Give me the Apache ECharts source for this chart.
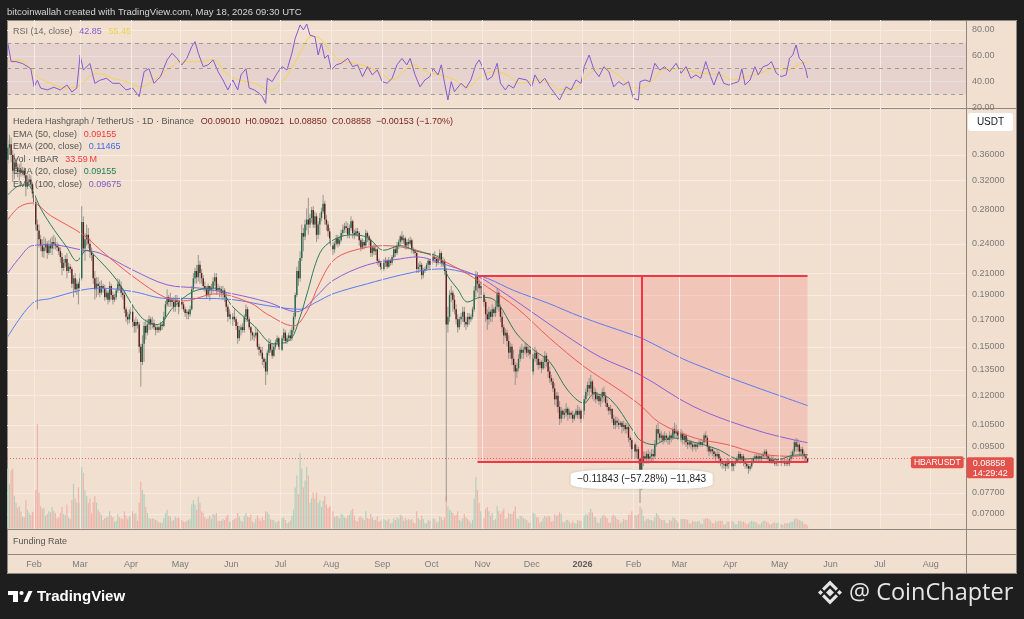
<!DOCTYPE html>
<html>
<head>
<meta charset="utf-8">
<title>HBARUSDT 1D</title>
<script src="https://cdn.jsdelivr.net/npm/echarts@6/dist/echarts.min.js"></script>
<style>
  html, body { margin: 0; padding: 0; background: #1e1e1e; }
  #main { width: 1024px; height: 619px; }
</style>
</head>
<body>
<div id="main"></div>
<script>
// daily candles, one array per month: [close, low, high, volume (M HBAR)]
// day 0 = 2025-01-16, each candle opens at the previous close
var firstOpen = 0.352;

var jan25 = [
  [0.372,0.345,0.385,700],[0.378,0.360,0.395,520],[0.360,0.348,0.390,680],[0.335,0.318,0.368,700],
  [0.348,0.322,0.362,380],[0.340,0.330,0.355,300],[0.333,0.325,0.346,240],[0.336,0.320,0.345,260],
  [0.332,0.326,0.348,200],[0.335,0.328,0.341,140],[0.328,0.324,0.340,130],[0.312,0.298,0.330,330],
  [0.318,0.308,0.328,220],[0.322,0.312,0.330,180],[0.315,0.308,0.328,160],[0.302,0.296,0.318,190]
];
var feb25 = [
  [0.290,0.285,0.312,200],[0.262,0.255,0.295,450],[0.255,0.178,0.268,1220],[0.245,0.236,0.262,420],
  [0.238,0.232,0.250,260],[0.232,0.226,0.245,230],[0.236,0.225,0.248,240],[0.240,0.232,0.246,150],
  [0.230,0.224,0.243,170],[0.238,0.228,0.244,200],[0.235,0.230,0.246,190],[0.242,0.228,0.248,250],
  [0.240,0.234,0.250,200],[0.238,0.234,0.247,180],[0.236,0.232,0.242,120],[0.232,0.228,0.240,130],
  [0.226,0.220,0.236,180],[0.215,0.208,0.230,250],[0.220,0.212,0.224,170],[0.224,0.216,0.228,160],
  [0.212,0.205,0.230,280],[0.216,0.210,0.220,130],[0.214,0.210,0.219,110],[0.200,0.196,0.216,330],
  [0.205,0.188,0.208,520],[0.195,0.192,0.210,350],[0.200,0.190,0.204,300],[0.196,0.182,0.202,480]
];
var mar25 = [
  [0.205,0.195,0.210,300],[0.265,0.203,0.285,720],[0.235,0.230,0.272,650],[0.245,0.222,0.252,450],
  [0.250,0.238,0.262,380],[0.240,0.235,0.258,300],[0.232,0.225,0.246,350],[0.228,0.222,0.236,180],
  [0.205,0.200,0.230,310],[0.195,0.186,0.212,380],[0.200,0.188,0.206,300],[0.198,0.190,0.206,220],
  [0.192,0.188,0.202,190],[0.198,0.190,0.203,160],[0.196,0.192,0.200,100],[0.188,0.185,0.199,120],
  [0.192,0.186,0.195,130],[0.186,0.182,0.194,140],[0.198,0.184,0.202,200],[0.190,0.186,0.200,150],
  [0.186,0.182,0.193,130],[0.188,0.184,0.191,80],[0.194,0.186,0.196,90],[0.200,0.192,0.205,170],
  [0.198,0.194,0.204,130],[0.192,0.188,0.202,120],[0.190,0.186,0.196,110],[0.178,0.175,0.194,200],
  [0.172,0.168,0.180,150],[0.170,0.166,0.176,110],[0.174,0.167,0.178,140]
];
var apr25 = [
  [0.176,0.170,0.180,150],[0.168,0.164,0.182,200],[0.165,0.160,0.170,170],[0.168,0.160,0.172,180],
  [0.166,0.163,0.170,90],[0.150,0.146,0.168,300],[0.140,0.125,0.152,550],[0.152,0.138,0.158,450],
  [0.165,0.140,0.168,400],[0.160,0.155,0.170,250],[0.166,0.158,0.170,180],[0.170,0.162,0.173,120],
  [0.166,0.162,0.172,110],[0.167,0.163,0.172,120],[0.164,0.162,0.170,110],[0.162,0.158,0.166,100],
  [0.164,0.160,0.166,90],[0.162,0.160,0.165,70],[0.166,0.161,0.168,70],[0.165,0.162,0.168,60],
  [0.172,0.164,0.176,120],[0.182,0.170,0.185,180],[0.188,0.180,0.195,220],[0.184,0.180,0.190,150],
  [0.186,0.180,0.192,140],[0.184,0.180,0.188,90],[0.180,0.176,0.188,100],[0.186,0.176,0.190,140],
  [0.184,0.180,0.190,120],[0.180,0.174,0.186,130]
];
var may25 = [
  [0.184,0.176,0.188,120],[0.182,0.178,0.188,100],[0.178,0.176,0.184,80],[0.175,0.172,0.180,80],
  [0.176,0.170,0.178,90],[0.174,0.170,0.178,100],[0.178,0.172,0.181,110],[0.195,0.177,0.198,280],
  [0.205,0.193,0.210,330],[0.212,0.200,0.215,280],[0.206,0.200,0.218,220],[0.218,0.202,0.228,370],
  [0.210,0.200,0.222,300],[0.205,0.200,0.214,200],[0.198,0.194,0.208,180],[0.196,0.193,0.202,130],
  [0.190,0.187,0.198,110],[0.198,0.188,0.200,120],[0.194,0.185,0.198,150],[0.196,0.190,0.200,110],
  [0.202,0.192,0.206,170],[0.206,0.198,0.210,160],[0.194,0.190,0.210,180],[0.196,0.192,0.200,90],
  [0.195,0.188,0.198,90],[0.192,0.188,0.198,90],[0.194,0.186,0.198,110],[0.188,0.184,0.196,100],
  [0.180,0.176,0.192,140],[0.172,0.168,0.182,160],[0.174,0.170,0.178,80]
];
var jun25 = [
  [0.170,0.166,0.176,80],[0.172,0.165,0.175,100],[0.170,0.168,0.178,110],[0.165,0.162,0.172,120],
  [0.156,0.152,0.168,180],[0.162,0.154,0.165,140],[0.164,0.158,0.166,90],[0.162,0.160,0.167,80],
  [0.172,0.160,0.174,150],[0.178,0.168,0.182,180],[0.170,0.168,0.180,140],[0.164,0.162,0.172,130],
  [0.160,0.154,0.165,160],[0.158,0.155,0.161,80],[0.158,0.154,0.160,70],[0.160,0.156,0.164,110],
  [0.150,0.148,0.162,150],[0.148,0.144,0.152,120],[0.146,0.144,0.150,90],[0.142,0.138,0.150,130],
  [0.140,0.136,0.143,100],[0.134,0.126,0.142,200],[0.146,0.132,0.148,190],[0.152,0.144,0.156,170],
  [0.148,0.146,0.155,110],[0.144,0.142,0.152,100],[0.150,0.143,0.152,100],[0.153,0.148,0.155,70],
  [0.156,0.151,0.158,80],[0.150,0.148,0.157,90]
];
var jul25 = [
  [0.148,0.145,0.153,90],[0.156,0.147,0.158,120],[0.160,0.154,0.163,130],[0.154,0.152,0.162,100],
  [0.156,0.152,0.158,60],[0.158,0.154,0.160,70],[0.156,0.154,0.162,90],[0.162,0.154,0.164,150],
  [0.172,0.160,0.175,220],[0.190,0.170,0.192,480],[0.212,0.188,0.216,620],[0.205,0.198,0.222,400],
  [0.225,0.202,0.232,880],[0.252,0.222,0.262,700],[0.248,0.232,0.258,480],[0.262,0.244,0.268,560],
  [0.268,0.255,0.282,720],[0.262,0.250,0.296,620],[0.270,0.258,0.275,300],[0.280,0.264,0.284,350],
  [0.262,0.258,0.285,420],[0.272,0.258,0.278,350],[0.250,0.242,0.276,420],[0.262,0.245,0.266,300],
  [0.270,0.250,0.276,330],[0.278,0.266,0.283,250],[0.288,0.275,0.300,320],[0.268,0.262,0.292,380],
  [0.262,0.255,0.274,280],[0.254,0.248,0.266,240],[0.246,0.240,0.258,260]
];
var aug25 = [
  [0.238,0.232,0.248,250],[0.234,0.228,0.242,200],[0.240,0.230,0.243,130],[0.246,0.238,0.250,150],
  [0.240,0.236,0.250,140],[0.244,0.238,0.248,120],[0.252,0.242,0.256,170],[0.256,0.248,0.262,160],
  [0.260,0.252,0.264,130],[0.258,0.252,0.266,120],[0.250,0.246,0.264,150],[0.258,0.246,0.262,160],
  [0.266,0.255,0.272,210],[0.252,0.246,0.268,230],[0.250,0.245,0.256,150],[0.254,0.248,0.258,90],
  [0.252,0.248,0.258,80],[0.244,0.238,0.254,130],[0.236,0.232,0.246,140],[0.242,0.234,0.246,120],
  [0.238,0.234,0.244,100],[0.252,0.236,0.256,200],[0.248,0.242,0.254,120],[0.244,0.238,0.250,110],
  [0.230,0.226,0.246,170],[0.236,0.226,0.238,130],[0.232,0.228,0.240,100],[0.234,0.228,0.238,100],
  [0.222,0.218,0.236,140],[0.220,0.216,0.224,80],[0.216,0.213,0.222,90]
];
var sep25 = [
  [0.214,0.210,0.220,100],[0.220,0.212,0.224,110],[0.222,0.216,0.226,100],[0.216,0.214,0.224,90],
  [0.222,0.215,0.226,110],[0.220,0.217,0.224,60],[0.226,0.218,0.228,70],[0.234,0.224,0.237,120],
  [0.230,0.226,0.238,100],[0.238,0.228,0.242,130],[0.242,0.234,0.245,110],[0.248,0.238,0.250,160],
  [0.244,0.240,0.254,150],[0.246,0.240,0.250,90],[0.238,0.234,0.248,120],[0.242,0.234,0.245,100],
  [0.240,0.234,0.246,110],[0.244,0.238,0.248,100],[0.234,0.230,0.246,110],[0.232,0.229,0.236,70],
  [0.230,0.226,0.234,60],[0.214,0.210,0.231,200],[0.216,0.210,0.220,120],[0.218,0.212,0.222,100],
  [0.208,0.204,0.220,150],[0.212,0.205,0.215,110],[0.214,0.210,0.216,60],[0.218,0.212,0.220,60],
  [0.222,0.214,0.224,100],[0.218,0.214,0.224,90]
];
var oct25 = [
  [0.222,0.216,0.226,110],[0.226,0.220,0.230,120],[0.224,0.220,0.232,110],[0.220,0.216,0.226,70],
  [0.224,0.218,0.228,80],[0.230,0.222,0.234,140],[0.220,0.216,0.232,130],[0.222,0.216,0.226,100],
  [0.212,0.208,0.224,130],[0.166,0.074,0.215,380],[0.172,0.160,0.180,260],[0.190,0.168,0.194,220],
  [0.192,0.184,0.198,200],[0.186,0.176,0.194,180],[0.178,0.174,0.190,150],[0.170,0.166,0.182,160],
  [0.164,0.160,0.174,200],[0.170,0.162,0.172,100],[0.172,0.166,0.175,90],[0.176,0.168,0.180,120],
  [0.168,0.164,0.180,170],[0.166,0.162,0.172,130],[0.172,0.164,0.175,110],[0.170,0.166,0.175,90],
  [0.172,0.168,0.174,60],[0.178,0.170,0.180,100],[0.194,0.176,0.198,350],[0.207,0.188,0.212,600],
  [0.200,0.192,0.211,450],[0.196,0.188,0.204,300],[0.198,0.190,0.202,200]
];
var nov25 = [
  [0.190,0.186,0.200,150],[0.184,0.180,0.192,120],[0.174,0.168,0.186,230],[0.170,0.162,0.178,250],
  [0.176,0.166,0.180,200],[0.172,0.168,0.178,150],[0.178,0.168,0.182,180],[0.175,0.172,0.180,100],
  [0.180,0.172,0.184,110],[0.192,0.178,0.196,260],[0.180,0.176,0.194,200],[0.172,0.168,0.182,170],
  [0.164,0.160,0.176,200],[0.158,0.152,0.166,230],[0.160,0.156,0.163,110],[0.154,0.150,0.162,120],
  [0.146,0.142,0.158,180],[0.150,0.142,0.153,170],[0.142,0.138,0.152,170],[0.138,0.134,0.148,200],
  [0.134,0.126,0.140,260],[0.136,0.130,0.139,120],[0.142,0.134,0.145,110],[0.148,0.140,0.150,150],
  [0.146,0.142,0.152,140],[0.148,0.142,0.150,120],[0.150,0.145,0.153,110],[0.146,0.143,0.152,100],
  [0.148,0.144,0.150,70],[0.145,0.142,0.150,70]
];
var dec25 = [
  [0.134,0.130,0.146,200],[0.142,0.132,0.145,180],[0.146,0.140,0.150,170],[0.142,0.138,0.148,130],
  [0.138,0.135,0.145,130],[0.140,0.136,0.142,70],[0.136,0.133,0.141,80],[0.140,0.135,0.143,120],
  [0.144,0.136,0.147,150],[0.140,0.137,0.146,130],[0.134,0.130,0.142,150],[0.130,0.127,0.137,140],
  [0.128,0.126,0.132,80],[0.124,0.122,0.130,90],[0.118,0.115,0.127,170],[0.120,0.114,0.122,150],
  [0.114,0.111,0.122,160],[0.108,0.105,0.117,190],[0.112,0.106,0.114,170],[0.110,0.108,0.113,80],
  [0.111,0.108,0.113,70],[0.113,0.109,0.116,100],[0.110,0.107,0.114,100],[0.111,0.108,0.113,80],
  [0.110,0.108,0.112,60],[0.108,0.106,0.112,90],[0.110,0.107,0.111,60],[0.112,0.109,0.113,60],
  [0.110,0.108,0.115,100],[0.112,0.108,0.114,90],[0.108,0.106,0.113,90]
];
var jan26 = [
  [0.112,0.107,0.114,90],[0.118,0.110,0.120,150],[0.122,0.116,0.124,170],[0.126,0.120,0.128,160],
  [0.124,0.120,0.130,190],[0.128,0.122,0.132,230],[0.121,0.118,0.129,190],[0.122,0.117,0.125,140],
  [0.118,0.116,0.124,130],[0.120,0.117,0.122,70],[0.117,0.115,0.121,70],[0.119,0.114,0.121,120],
  [0.122,0.116,0.124,150],[0.120,0.117,0.125,160],[0.116,0.114,0.122,140],[0.114,0.112,0.118,120],
  [0.112,0.110,0.115,70],[0.113,0.110,0.115,70],[0.108,0.106,0.113,150],[0.105,0.103,0.110,160],
  [0.107,0.103,0.109,140],[0.106,0.104,0.109,110],[0.105,0.103,0.108,100],[0.106,0.104,0.107,60],
  [0.104,0.101,0.107,80],[0.105,0.102,0.107,110],[0.103,0.101,0.106,100],[0.104,0.101,0.106,100],
  [0.099,0.097,0.105,160],[0.098,0.095,0.100,160],[0.094,0.090,0.099,200]
];
var feb26 = [
  [0.096,0.092,0.098,130],[0.093,0.090,0.097,160],[0.094,0.090,0.096,150],[0.090,0.088,0.095,170],
  [0.080,0.0735,0.0905,260],[0.089,0.078,0.091,230],[0.091,0.087,0.093,150],[0.090,0.088,0.093,90],
  [0.092,0.088,0.093,110],[0.090,0.088,0.094,110],[0.091,0.089,0.093,100],[0.092,0.089,0.094,100],
  [0.091,0.089,0.094,90],[0.096,0.090,0.098,130],[0.103,0.095,0.105,180],[0.101,0.098,0.106,160],
  [0.099,0.097,0.103,120],[0.100,0.097,0.102,100],[0.098,0.096,0.101,100],[0.100,0.097,0.102,100],
  [0.099,0.097,0.101,60],[0.098,0.096,0.100,60],[0.100,0.096,0.102,100],[0.099,0.097,0.101,90],
  [0.103,0.098,0.104,130],[0.101,0.099,0.106,120],[0.102,0.099,0.105,100],[0.100,0.098,0.103,70]
];
var mar26 = [
  [0.099,0.097,0.101,70],[0.101,0.097,0.103,110],[0.098,0.096,0.102,110],[0.100,0.096,0.101,110],
  [0.097,0.095,0.101,110],[0.096,0.094,0.099,100],[0.097,0.095,0.098,60],[0.096,0.094,0.098,60],
  [0.095,0.093,0.097,90],[0.096,0.094,0.097,80],[0.095,0.093,0.097,80],[0.096,0.094,0.097,80],
  [0.097,0.095,0.098,90],[0.096,0.095,0.098,60],[0.097,0.095,0.098,50],[0.100,0.096,0.101,110],
  [0.099,0.097,0.102,120],[0.095,0.093,0.100,120],[0.093,0.091,0.096,110],[0.094,0.092,0.095,90],
  [0.093,0.091,0.095,60],[0.092,0.090,0.094,60],[0.091,0.089,0.093,90],[0.092,0.090,0.094,80],
  [0.090,0.088,0.093,90],[0.089,0.087,0.091,90],[0.088,0.086,0.090,90],[0.088,0.086,0.089,50],
  [0.087,0.085,0.089,50],[0.089,0.086,0.090,80],[0.088,0.086,0.090,80]
];
var apr26 = [
  [0.089,0.087,0.091,80],[0.087,0.085,0.090,90],[0.088,0.085,0.089,80],[0.089,0.087,0.090,50],
  [0.090,0.088,0.091,50],[0.092,0.089,0.093,90],[0.090,0.088,0.093,90],[0.091,0.089,0.092,80],
  [0.089,0.087,0.092,80],[0.088,0.086,0.090,70],[0.087,0.086,0.089,50],[0.086,0.084,0.088,60],
  [0.087,0.085,0.088,80],[0.089,0.086,0.090,90],[0.090,0.088,0.091,80],[0.091,0.089,0.092,80],
  [0.090,0.089,0.092,70],[0.091,0.089,0.092,50],[0.090,0.089,0.092,50],[0.091,0.089,0.092,70],
  [0.092,0.090,0.093,90],[0.093,0.090,0.094,90],[0.091,0.090,0.094,80],[0.090,0.089,0.092,70],
  [0.089,0.088,0.091,50],[0.0895,0.088,0.091,50],[0.089,0.088,0.091,70],[0.088,0.087,0.090,70],
  [0.0885,0.087,0.090,60],[0.089,0.087,0.090,70]
];
var may26 = [
  [0.089,0.088,0.090,60],[0.0885,0.087,0.090,50],[0.089,0.088,0.090,40],[0.088,0.087,0.090,60],
  [0.089,0.087,0.090,60],[0.088,0.087,0.090,60],[0.090,0.087,0.091,70],[0.091,0.089,0.093,80],
  [0.093,0.090,0.094,80],[0.097,0.092,0.098,110],[0.095,0.093,0.099,120],[0.096,0.093,0.0985,110],
  [0.093,0.091,0.097,100],[0.094,0.091,0.095,90],[0.092,0.090,0.095,80],[0.091,0.089,0.093,50],
  [0.0901,0.089,0.092,50],[0.08858,0.0885,0.09021,33.59]
];

// indicator lines: [day, value]
var ema20Pts = [[0,0.300],[6,0.312],[12,0.314],[15,0.306],[20,0.282],[26,0.262],[36,0.236],[42,0.222],[48,0.233],
  [56,0.222],[67,0.202],[81,0.172],[91,0.166],[101,0.180],[113,0.193],[127,0.196],[137,0.180],[150,0.165],
  [162,0.152],[172,0.155],[178,0.172],[182,0.190],[190,0.230],[198,0.244],[209,0.250],[219,0.247],[229,0.233],
  [239,0.238],[249,0.232],[263,0.225],[268,0.207],[274,0.195],[280,0.184],[288,0.188],[296,0.186],[310,0.159],
  [320,0.148],[330,0.140],[341,0.123],[351,0.116],[357,0.121],[367,0.118],[381,0.102],[385,0.098],[393,0.096],
  [404,0.099],[418,0.097],[432,0.094],[446,0.0898],[458,0.0902],[469,0.0897],[479,0.0915],[487,0.0916]];
var ema50Pts = [[0,0.268],[7,0.284],[15,0.289],[26,0.273],[46,0.250],[56,0.234],[76,0.207],[97,0.187],[107,0.185],
  [127,0.191],[148,0.183],[158,0.174],[174,0.165],[182,0.176],[190,0.201],[198,0.222],[209,0.232],[229,0.238],
  [249,0.233],[265,0.222],[280,0.209],[292,0.197],[310,0.179],[330,0.156],[351,0.137],[371,0.124],[385,0.115],
  [397,0.106],[418,0.099],[438,0.096],[458,0.092],[479,0.091],[487,0.0916]];
var ema100Pts = [[0,0.210],[7,0.225],[15,0.238],[26,0.239],[46,0.233],[56,0.230],[76,0.213],[97,0.199],[117,0.196],
  [137,0.191],[158,0.184],[176,0.176],[188,0.189],[198,0.203],[219,0.218],[239,0.224],[249,0.226],[265,0.219],
  [286,0.207],[300,0.194],[320,0.175],[341,0.157],[361,0.143],[385,0.132],[418,0.114],[458,0.102],[487,0.0968]];
var ema200Pts = [[0,0.157],[15,0.183],[26,0.187],[44,0.194],[56,0.196],[76,0.193],[97,0.187],[117,0.187],
  [137,0.186],[158,0.181],[178,0.178],[188,0.184],[198,0.191],[219,0.200],[239,0.208],[255,0.213],[265,0.214],
  [280,0.210],[292,0.205],[308,0.194],[329,0.183],[349,0.172],[379,0.159],[386,0.156],[411,0.142],[425,0.136],
  [446,0.128],[487,0.1147]];

var rsiPts = [[0,69.7],[2,55.5],[5,55.5],[9,54],[14,50],[16,36],[18,41],[20,35],[24,33.6],[28,35.6],[32,33.6],
  [36,37.4],[39,32],[42,35],[44,60.6],[46,49],[50,54],[53,38.7],[56,41],[60,42.6],[64,38.7],[68,38.7],[72,33.6],
  [76,35],[80,28.4],[83,47.8],[86,50],[89,38.7],[93,43.9],[97,56.8],[100,62],[103,58],[106,53],[109,58],
  [112,67.1],[114,71],[116,62],[119,51.6],[122,53],[125,56.8],[128,47.8],[131,41.3],[134,33.6],[137,41.3],
  [140,33.6],[142,45.2],[145,50],[147,35],[150,33.6],[153,31],[155,28.4],[157,23.2],[158,42.6],[161,40],
  [164,46.5],[167,51.6],[170,49],[173,62],[175,73.5],[178,83.9],[180,80],[182,84.6],[184,76],[187,74.8],
  [189,60.6],[191,69.7],[193,58],[195,60.6],[197,49],[200,53],[203,54.2],[207,58],[210,51.6],[213,53],
  [216,43.9],[219,51.6],[222,45.2],[225,49],[228,40],[231,38.7],[234,42.6],[237,53],[240,58],[243,53],[245,58],
  [248,45.2],[251,36],[254,41.3],[257,43.9],[259,50],[262,45.2],[264,53],[266,38.7],[268,25.8],[270,40],
  [272,32.3],[276,38.7],[279,35],[282,41.3],[285,53],[287,56.8],[290,49],[292,41.3],[295,43.9],[298,54.2],
  [300,38.7],[303,33.6],[305,37.4],[308,35],[311,42.6],[316,41.3],[319,36],[321,45.2],[324,38.7],[327,42.6],
  [330,36],[333,31],[336,25.8],[340,36],[343,33.6],[346,41.3],[349,38.7],[351,51.6],[354,60.6],[357,49],
  [360,43.9],[363,51.6],[366,47.8],[369,36],[372,40],[375,37.4],[378,40],[381,27],[384,25.8],[385,40],
  [388,41.3],[391,40],[394,54.2],[397,49],[400,51.6],[403,47.8],[407,54.2],[410,46.5],[413,51.6],[416,42.6],
  [419,45.2],[422,42.6],[425,55.5],[428,43.9],[430,37.4],[433,47.8],[436,38.7],[439,37.4],[442,38.7],[445,40],
  [447,50],[449,37.4],[452,41.3],[455,51.6],[457,45.2],[460,51.6],[463,53],[465,55.5],[468,46.5],[471,43.9],
  [474,45.2],[476,58],[478,60.6],[480,68.4],[482,58],[484,55.5],[486,49],[487,42.85]];
var rsiMaPts = [[0,55.5],[5,56.8],[11,54.2],[18,43.9],[26,38.7],[36,35],[44,37.4],[54,46.5],[64,42.6],[72,40],
  [81,36],[89,41.3],[97,49],[106,55.5],[117,55.5],[125,57],[133,46.5],[141,41.3],[150,38.7],[160,33.6],
  [168,41.3],[174,53],[180,67],[185,75],[190,73.5],[196,64.5],[202,56.8],[211,54.2],[219,51.6],[227,46.5],
  [234,41.3],[241,47.8],[247,53],[255,47.8],[263,45.2],[272,41.3],[280,36],[288,43.9],[296,47.8],[304,45.2],
  [312,39],[324,41.3],[330,38.7],[336,34],[345,34.8],[353,45.2],[361,50],[367,48.6],[373,43.9],[379,36],
  [385,35],[393,41.3],[399,49],[408,50],[416,47.8],[424,46.5],[434,45.2],[442,41.3],[450,43.9],[458,46.5],
  [467,50],[475,49],[481,53],[487,55.45]];

var priceTicks = [0.36, 0.32, 0.28, 0.24, 0.21, 0.19, 0.17, 0.15, 0.135, 0.12, 0.105, 0.095, 0.077, 0.07];
var rsiTicks = [20, 40, 60, 80];
var monthNames = ['Jan','Feb','Mar','Apr','May','Jun','Jul','Aug','Sep','Oct','Nov','Dec'];

// price range drawing
var rangeTop = 0.20701;
var rangeBottom = 0.08858;
var rangeFrom = 286, rangeTo = 487, rangeMid = 386;
var rangeLabelPrice = 0.0819;
var rangeText = '\u22120.11843 (\u221257.28%) \u221211,843';

var startDay = Date.UTC(2025, 0, 16);
var dayCount = 584;
var days = [];
for (var i = 0; i < dayCount; i++) {
  days.push(new Date(startDay + i * 86400000).toISOString().slice(0, 10));
}
var monthStarts = days.filter(function (d) { return d.slice(8) === '01'; });

var FONT = '"Liberation Sans", Arial, sans-serif';
var LEG = 9;
var gridColor = '#f5ebe3';
var bodyUp = '#24684a', bodyDown = '#5a1d1d', wickColor = '#9b958f';
var volUp = '#b2cfbd', volDown = '#f0b2a9';

var rows = [].concat(jan25, feb25, mar25, apr25, may25, jun25, jul25, aug25, sep25, oct25, nov25, dec25,
  jan26, feb26, mar26, apr26, may26);
var candles = [], volumes = [];
var prevClose = firstOpen;
rows.forEach(function (r, i) {
  candles.push([i, prevClose, r[0], r[1], r[2]]);
  volumes.push({ value: r[3], itemStyle: { color: r[0] >= prevClose ? volUp : volDown } });
  prevClose = r[0];
});
var lastClose = rows[rows.length - 1][0];

function monthStart(idx, val) { return val.slice(8) === '01'; }

function renderCandle(params, api) {
  var i = api.value(0);
  var pOpen = api.coord([i, api.value(1)]);
  var yClose = api.coord([i, api.value(2)])[1];
  var yLow = api.coord([i, api.value(3)])[1];
  var yHigh = api.coord([i, api.value(4)])[1];
  var x = pOpen[0];
  var top = Math.min(pOpen[1], yClose);
  var h = Math.max(Math.abs(pOpen[1] - yClose), 1);
  return {
    type: 'group',
    children: [
      { type: 'line', shape: { x1: x, y1: yHigh, x2: x, y2: yLow }, style: { stroke: wickColor, lineWidth: 1 } },
      { type: 'rect', shape: { x: x - 0.7, y: top, width: 1.4, height: h },
        style: { fill: api.value(2) >= api.value(1) ? bodyUp : bodyDown } }
    ]
  };
}

function catAxis(gridIndex, withLabels) {
  return {
    type: 'category', gridIndex: gridIndex, data: days, boundaryGap: true,
    axisLine: { show: false }, axisTick: { show: false }, splitLine: { show: false },
    axisLabel: {
      show: withLabels, interval: monthStart, color: '#7b7b7b', fontSize: 9, fontFamily: FONT, margin: 6,
      formatter: function (v) {
        var d = new Date(v + 'T00:00:00Z');
        var m = d.getUTCMonth();
        return m === 0 ? '{yr|' + d.getUTCFullYear() + '}' : monthNames[m];
      },
      rich: { yr: { fontWeight: 'bold', color: '#5c5c5c', fontSize: 9, fontFamily: FONT } }
    }
  };
}

// vertical month grid lines for one pane
function monthGrid(xi, yi) {
  return {
    type: 'line', xAxisIndex: xi, yAxisIndex: yi, data: [], silent: true, z: 0,
    markLine: {
      silent: true, symbol: ['none', 'none'], label: { show: false }, animation: false,
      lineStyle: { color: gridColor, type: 'solid', width: 1 },
      data: monthStarts.map(function (d) { return { xAxis: d }; })
    }
  };
}

function emaSeries(name, pts, color) {
  return {
    name: name, type: 'line', xAxisIndex: 1, yAxisIndex: 1, data: pts, smooth: 0.35,
    symbol: 'none', silent: true, z: 4, lineStyle: { color: color, width: 1 }
  };
}

function legendRow(y, label, value, color) {
  return {
    type: 'text', x: 13, y: y, z: 10,
    style: {
      text: '{l|' + label + '}  {v|' + value + '}', verticalAlign: 'middle', textVerticalAlign: 'middle',
      rich: { l: { fill: '#555555', fontSize: LEG, fontFamily: FONT }, v: { fill: color, fontSize: LEG, fontFamily: FONT } }
    }
  };
}

var chart = echarts.init(document.getElementById('main'));

chart.setOption({
  animation: false,
  backgroundColor: '#f1e0cf',
  grid: [
    { left: 7, right: 58, top: 20, height: 88, outerBoundsMode: 'none' },
    { left: 7, right: 58, top: 108, height: 421, outerBoundsMode: 'none' },
    { left: 7, right: 58, top: 400, height: 128.5, outerBoundsMode: 'none' },
    { left: 7, right: 58, top: 529, height: 25, outerBoundsMode: 'none' }
  ],
  xAxis: [catAxis(0, false), catAxis(1, false), catAxis(2, false), catAxis(3, true)],
  yAxis: [
    {
      gridIndex: 0, type: 'value', position: 'right', min: 19.6, max: 87.7,
      axisLine: { show: false },
      axisTick: { show: false, customValues: rsiTicks },
      axisLabel: { customValues: rsiTicks, formatter: function (v) { return v.toFixed(2); },
        color: '#7b7b7b', fontSize: 9, fontFamily: FONT, margin: 6 },
      splitLine: { show: true, lineStyle: { color: gridColor } }
    },
    {
      gridIndex: 1, type: 'log', logBase: 10, position: 'right', min: 0.0653, max: 0.446,
      axisLine: { show: false },
      axisTick: { show: false, customValues: priceTicks },
      axisLabel: { customValues: priceTicks, formatter: function (v) { return v.toFixed(5); },
        color: '#7b7b7b', fontSize: 9, fontFamily: FONT, margin: 6 },
      splitLine: { show: true, lineStyle: { color: gridColor } }
    },
    { gridIndex: 2, type: 'value', min: 0, max: 1500, show: false, splitLine: { show: false } },
    { gridIndex: 3, type: 'value', min: 0, max: 1, show: false, splitLine: { show: false } }
  ],
  series: [
    monthGrid(0, 0),
    monthGrid(1, 1),
    {
      name: 'RSI', type: 'line', xAxisIndex: 0, yAxisIndex: 0, data: rsiPts, symbol: 'none', silent: true,
      lineStyle: { color: '#8659cf', width: 1 }, z: 3,
      markArea: { silent: true, itemStyle: { color: 'rgba(126,87,194,0.09)' }, data: [[{ yAxis: 30 }, { yAxis: 70 }]] },
      markLine: {
        silent: true, symbol: ['none', 'none'], label: { show: false },
        lineStyle: { color: '#a39a94', type: [4, 4], width: 1 },
        data: [{ yAxis: 70 }, { yAxis: 50 }, { yAxis: 30 }]
      }
    },
    {
      name: 'RSI MA', type: 'line', xAxisIndex: 0, yAxisIndex: 0, data: rsiMaPts, smooth: 0.4, symbol: 'none',
      silent: true, lineStyle: { color: '#f7d44a', width: 1 }, z: 2
    },
    {
      name: 'Volume', type: 'bar', xAxisIndex: 2, yAxisIndex: 2, data: volumes, barWidth: 1.2, silent: true, z: 1
    },
    {
      name: 'Range', type: 'line', xAxisIndex: 1, yAxisIndex: 1, data: [], z: 1, silent: true,
      markArea: {
        silent: true, itemStyle: { color: 'rgba(242,54,69,0.16)' },
        data: [[{ xAxis: days[rangeFrom], yAxis: rangeTop }, { xAxis: days[rangeTo], yAxis: rangeBottom }]]
      },
      markLine: {
        silent: true, symbol: ['none', 'none'], label: { show: false },
        lineStyle: { color: '#f23645', width: 2, type: 'solid' },
        data: [
          [{ coord: [days[rangeFrom], rangeTop] }, { coord: [days[rangeTo], rangeTop] }],
          [{ coord: [days[rangeFrom], rangeBottom] }, { coord: [days[rangeTo], rangeBottom] }],
          [{ coord: [days[rangeMid], rangeTop] }, { coord: [days[rangeMid], rangeBottom] }]
        ]
      }
    },
    {
      name: 'HBARUSDT', type: 'custom', xAxisIndex: 1, yAxisIndex: 1, data: candles, renderItem: renderCandle,
      encode: { x: 0, y: [1, 2, 3, 4] }, silent: true, z: 2
    },
    emaSeries('EMA 200', ema200Pts, '#5a7cf2'),
    emaSeries('EMA 100', ema100Pts, '#8b5fd6'),
    emaSeries('EMA 50', ema50Pts, '#ef5858'),
    emaSeries('EMA 20', ema20Pts, '#2c7c5c'),
    {
      name: 'Last', type: 'line', xAxisIndex: 1, yAxisIndex: 1, data: [], z: 6, silent: true,
      markLine: {
        silent: true, symbol: ['none', 'none'], label: { show: false },
        lineStyle: { color: 'rgba(242,54,69,0.75)', type: [1, 2], width: 1 },
        data: [{ yAxis: lastClose }]
      },
      markPoint: {
        silent: true,
        data: [
          {
            coord: [days[dayCount - 1], lastClose], symbol: 'rect', symbolSize: 1,
            itemStyle: { color: 'rgba(0,0,0,0)' },
            label: { show: true, position: 'left', distance: 1, formatter: 'HBARUSDT',
              backgroundColor: '#e3524a', color: '#fff', fontSize: 8.5, fontFamily: FONT,
              padding: [2, 3, 1, 3], borderRadius: 2 }
          },
          {
            coord: [days[dayCount - 1], lastClose], symbol: 'rect', symbolSize: 1,
            itemStyle: { color: 'rgba(0,0,0,0)' },
            label: { show: true, position: 'right', distance: 1, offset: [0, -5], verticalAlign: 'top', align: 'left',
              formatter: lastClose.toFixed(5) + '\n14:29:42',
              backgroundColor: '#e3524a', color: '#fff', fontSize: 9, fontFamily: FONT,
              lineHeight: 10, padding: [1, 6, 0, 6], borderRadius: 2 }
          },
          {
            coord: [days[rangeMid], rangeLabelPrice], symbol: 'roundRect', symbolSize: [142, 19],
            itemStyle: { color: '#ffffff', shadowBlur: 3, shadowColor: 'rgba(0,0,0,0.15)' },
            label: { show: true, position: 'inside', formatter: rangeText, color: '#1e1e1e',
              fontSize: 10, fontFamily: FONT }
          }
        ]
      }
    }
  ],
  graphic: [
    // dark surround and pane separators
    { type: 'rect', shape: { x: 0, y: 0, width: 1024, height: 20 }, style: { fill: '#1e1e1e' } },
    { type: 'rect', shape: { x: 0, y: 0, width: 7, height: 619 }, style: { fill: '#1e1e1e' } },
    { type: 'rect', shape: { x: 1017, y: 0, width: 7, height: 619 }, style: { fill: '#1e1e1e' } },
    { type: 'rect', shape: { x: 0, y: 574, width: 1024, height: 45 }, style: { fill: '#1e1e1e' } },
    { type: 'rect', shape: { x: 7.5, y: 20.5, width: 1009, height: 553 }, style: { fill: null, stroke: '#8d8781', lineWidth: 1 } },
    { type: 'line', shape: { x1: 966.5, y1: 20, x2: 966.5, y2: 574 }, style: { stroke: '#8d8781', lineWidth: 1 } },
    { type: 'line', shape: { x1: 7, y1: 108.5, x2: 1017, y2: 108.5 }, style: { stroke: '#8d8781', lineWidth: 1 } },
    { type: 'line', shape: { x1: 7, y1: 529.5, x2: 1017, y2: 529.5 }, style: { stroke: '#8d8781', lineWidth: 1 } },
    { type: 'line', shape: { x1: 7, y1: 554.5, x2: 1017, y2: 554.5 }, style: { stroke: '#8d8781', lineWidth: 1 } },

    { type: 'text', x: 7, y: 12, z: 10, style: { text: 'bitcoinwallah created with TradingView.com, May 18, 2026 09:30 UTC',
      fill: '#d6d6d6', font: '9.5px ' + FONT, verticalAlign: 'middle', textVerticalAlign: 'middle' } },

    { type: 'text', x: 13, y: 32, z: 10, style: {
      text: '{l|RSI (14, close)}  {a|42.85}  {b|55.45}', verticalAlign: 'middle', textVerticalAlign: 'middle',
      rich: { l: { fill: '#6a6a6a', fontSize: LEG, fontFamily: FONT }, a: { fill: '#8659cf', fontSize: LEG, fontFamily: FONT },
        b: { fill: '#f2cf4a', fontSize: LEG, fontFamily: FONT } } } },

    { type: 'text', x: 13, y: 122, z: 10, style: {
      text: '{l|Hedera Hashgraph / TetherUS \u00b7 1D \u00b7 Binance}  {o|O0.09010  H0.09021  L0.08850  C0.08858  \u22120.00153 (\u22121.70%)}',
      verticalAlign: 'middle', textVerticalAlign: 'middle',
      rich: { l: { fill: '#555555', fontSize: LEG, fontFamily: FONT }, o: { fill: '#7a2323', fontSize: LEG, fontFamily: FONT } } } },
    legendRow(134.5, 'EMA (50, close)', '0.09155', '#f23645'),
    legendRow(147, 'EMA (200, close)', '0.11465', '#3f69f0'),
    legendRow(159.5, 'Vol \u00b7 HBAR', '33.59\u2009M', '#f23645'),
    legendRow(172, 'EMA (20, close)', '0.09155', '#1f7a58'),
    legendRow(184.5, 'EMA (100, close)', '0.09675', '#7e57c2'),

    { type: 'rect', z: 10, shape: { x: 968, y: 113, width: 45, height: 18, r: 3 }, style: { fill: '#ffffff' } },
    { type: 'text', x: 990.5, y: 122.5, z: 11, style: { text: 'USDT', fill: '#131722', font: '10px ' + FONT,
      align: 'center', textAlign: 'center', verticalAlign: 'middle', textVerticalAlign: 'middle' } },

    { type: 'text', x: 13, y: 541.5, z: 10, style: { text: 'Funding Rate', fill: '#555555', font: LEG + 'px ' + FONT,
      verticalAlign: 'middle', textVerticalAlign: 'middle' } },

    // TradingView logo
    { type: 'rect', z: 10, shape: { x: 8, y: 591, width: 10, height: 4 }, style: { fill: '#ffffff' } },
    { type: 'rect', z: 10, shape: { x: 13, y: 591, width: 5, height: 11 }, style: { fill: '#ffffff' } },
    { type: 'circle', z: 10, shape: { cx: 21.5, cy: 593, r: 2.1 }, style: { fill: '#ffffff' } },
    { type: 'polygon', z: 10, shape: { points: [[23.5, 602], [28.5, 591], [32.5, 591], [27.5, 602]] }, style: { fill: '#ffffff' } },
    { type: 'text', x: 37, y: 597, z: 10, style: { text: 'TradingView', fill: '#ffffff', font: 'bold 15px ' + FONT,
      verticalAlign: 'middle', textVerticalAlign: 'middle' } },

    // CoinChapter watermark
    { type: 'polygon', z: 10, shape: { points: [[830, 588.5], [834, 592.5], [830, 596.5], [826, 592.5]] }, style: { fill: '#e6e6e6' } },
    { type: 'polygon', z: 10, shape: { points: [[820.5, 590], [823, 592.5], [820.5, 595], [818, 592.5]] }, style: { fill: '#e6e6e6' } },
    { type: 'polygon', z: 10, shape: { points: [[839.5, 590], [842, 592.5], [839.5, 595], [837, 592.5]] }, style: { fill: '#e6e6e6' } },
    { type: 'polygon', z: 10, shape: { points: [[830, 580.5], [838, 588.5], [835.8, 590.7], [830, 584.9], [824.2, 590.7], [822, 588.5]] }, style: { fill: '#e6e6e6' } },
    { type: 'polygon', z: 10, shape: { points: [[830, 604.5], [838, 596.5], [835.8, 594.3], [830, 600.1], [824.2, 594.3], [822, 596.5]] }, style: { fill: '#e6e6e6' } },
    { type: 'text', x: 849, y: 593, z: 10, style: { text: '@ CoinChapter', fill: '#e6e6e6', font: '23.5px "Open Sans", "Noto Sans", sans-serif',
      verticalAlign: 'middle', textVerticalAlign: 'middle' } }
  ]
});
</script>
</body>
</html>
